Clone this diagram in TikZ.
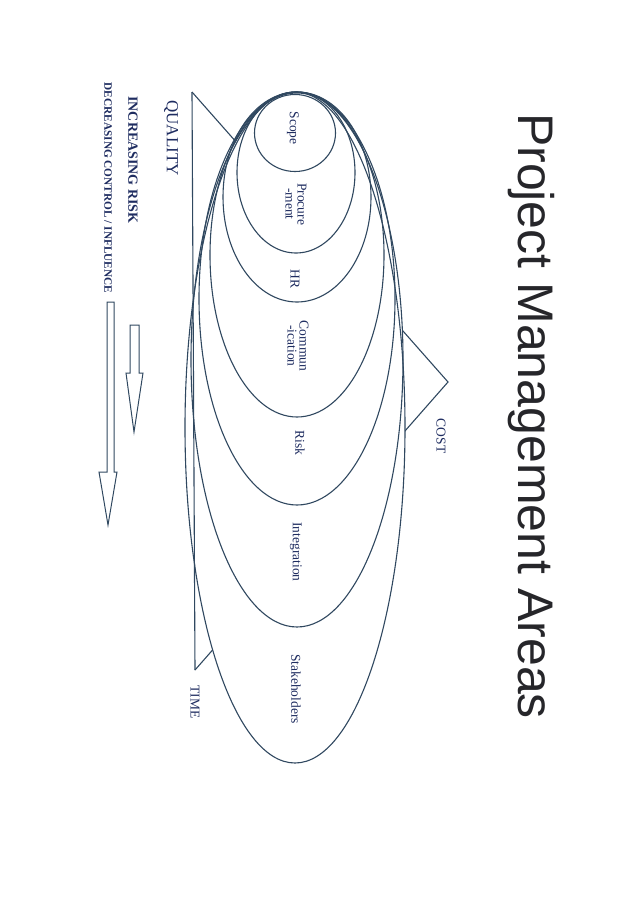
\documentclass[tikz,border=0pt]{standalone}
\usepackage{fontspec}
\setmainfont{Liberation Serif}
\newfontfamily\titlefont{Liberation Sans}
\definecolor{inkline}{RGB}{48,72,96}
\definecolor{inktext}{RGB}{30,44,96}
\definecolor{inktitle}{RGB}{38,38,42}
\tikzset{
  area/.style={draw=inkline, line width=1.1pt},
  areatext/.style={text=inktext, rotate=-90, align=center, inner sep=0pt,
                   font=\fontsize{13.5}{12}\selectfont},
  cornertext/.style={text=inktext, rotate=-90, inner sep=0pt,
                   font=\fontsize{13.5}{14}\selectfont},
  blockarrow/.style={draw=inkline, line width=1pt, line join=miter}
}

\begin{document}
\begin{tikzpicture}[x=1pt,y=-1pt]
  \useasboundingbox (0,0) rectangle (638,902);

  % triangle of the three constraints
  \coordinate (quality) at (192,92);
  \coordinate (cost) at (448,382);
  \coordinate (time) at (195,670);
  \draw[area] (quality) -- (cost) -- (time);

  % nested areas, filled first so the triangle hides behind them
  \foreach \cx/\cy/\rx/\ry in {295/427.5/110/335.5, 297/359.5/106/267.5,
      297/298.5/98/206.5, 297/255/87/162, 297/197/74/105,
      296/172.5/59/80.5, 295/133/40.5/38.5}
    \fill[white] (\cx,\cy) ellipse [x radius=\rx, y radius=\ry];
  \draw[area] (quality) -- (time);
  \foreach \cx/\cy/\rx/\ry in {295/427.5/110/335.5, 297/359.5/106/267.5,
      297/298.5/98/206.5, 297/255/87/162, 297/197/74/105,
      296/172.5/59/80.5, 295/133/40.5/38.5}
    \draw[area] (\cx,\cy) ellipse [x radius=\rx, y radius=\ry];

  \node[areatext] (scope) at (293,128) {Scope};
  \node[areatext] (procure) at (296,204) {Procure\\-ment};
  \node[areatext] (hr) at (295,279) {HR};
  \node[areatext] (commun) at (298,346) {Commun\\-ication};
  \node[areatext] (risk) at (300,443) {Risk};
  \node[areatext] (integ) at (296,552) {Integration};
  \node[areatext] (stake) at (296,689) {Stakeholders};

  \node[cornertext] (costlbl) at (441,436) {COST};
  \node[cornertext] (timelbl) at (195,702) {TIME};
  \node[cornertext, font=\fontsize{17}{18}\selectfont] (qualitylbl) at (171,138) {QUALITY};

  % trends
  \node[cornertext, font=\bfseries\fontsize{14}{15}\selectfont] (risklbl) at (133,160) {INCREASING RISK};
  \node[cornertext, font=\bfseries\fontsize{11.3}{12}\selectfont] (controllbl) at (108,188) {DECREASING CONTROL / INFLUENCE};
  \draw[blockarrow] (130,325) -- (139,325) -- (139,373) -- (143,373) -- (134,432)
     -- (126,373) -- (130,373) -- cycle;
  \draw[blockarrow] (107,302) -- (114,302) -- (114,472) -- (117,472) -- (108,525)
     -- (99,472) -- (107,472) -- cycle;

  \node[text=inktitle, rotate=-90, inner sep=0pt, font=\titlefont\fontsize{50}{52}\selectfont]
    (title) at (531,416) {Project Management Areas};
\end{tikzpicture}
\end{document}
